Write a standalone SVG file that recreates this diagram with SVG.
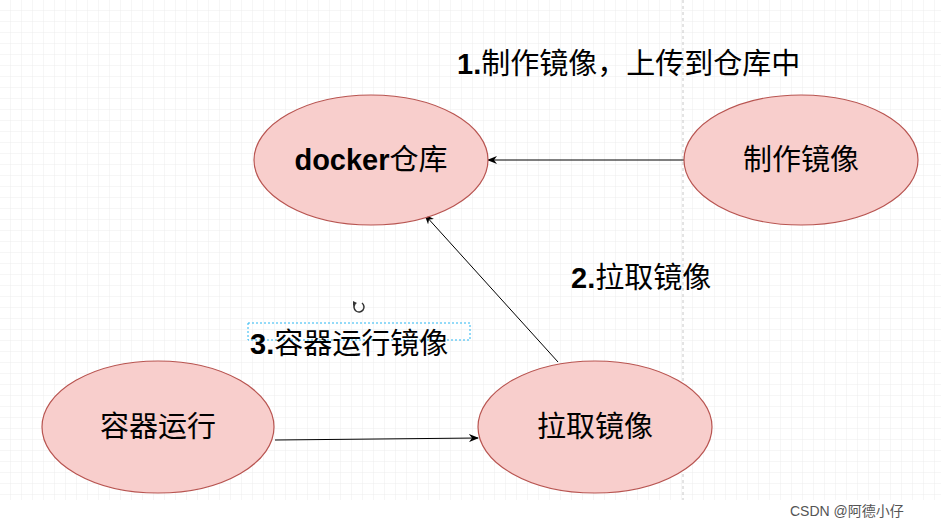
<svg xmlns="http://www.w3.org/2000/svg" width="941" height="528" viewBox="0 0 941 528">
<defs>
<pattern id="g" width="11" height="11" patternUnits="userSpaceOnUse"><path d="M11 0V11H0" fill="none" stroke="#ececec" stroke-width="1"/></pattern>
<marker id="a" markerWidth="10" markerHeight="8" refX="9" refY="4" orient="auto" markerUnits="userSpaceOnUse"><path d="M0 0L10 4L0 8L3 4Z" fill="#000"/></marker>
<style>
.n{fill:#f8cecc;stroke:#b85450;stroke-width:1.2}
.t{font-family:"Liberation Sans","Noto Sans CJK SC",sans-serif;font-size:29px;fill:#000}
.c{stroke:#000;stroke-width:1;fill:none;marker-end:url(#a)}
</style>
</defs>
<rect width="941" height="528" fill="#fff"/>
<rect width="941" height="500" fill="url(#g)"/>
<line x1="683" y1="0" x2="683" y2="500" stroke="#c8c8c8" stroke-dasharray="3,3"/>
<g id="connectors">
<line class="c" x1="685" y1="160" x2="488" y2="160"/>
<line class="c" x1="558" y1="362" x2="425" y2="215"/>
<line class="c" x1="275" y1="440" x2="478" y2="438"/>
</g>
<g id="docker"><ellipse class="n" cx="371" cy="160" rx="117" ry="65"/><text class="t" x="371" y="170" text-anchor="middle" font-size="27"><tspan font-weight="bold">docker</tspan>仓库</text></g>
<g id="make"><ellipse class="n" cx="801" cy="160" rx="117" ry="65"/><text class="t" x="801" y="170" text-anchor="middle">制作镜像</text></g>
<g id="run"><ellipse class="n" cx="158" cy="427" rx="116" ry="66"/><text class="t" x="158" y="437" text-anchor="middle">容器运行</text></g>
<g id="pull"><ellipse class="n" cx="595" cy="427" rx="117" ry="66"/><text class="t" x="595" y="437" text-anchor="middle">拉取镜像</text></g>
<text class="t" x="457" y="74"><tspan font-weight="bold">1.</tspan>制作镜像，上传到仓库中</text>
<text class="t" x="571" y="288"><tspan font-weight="bold">2.</tspan>拉取镜像</text>
<rect x="248" y="323" width="222" height="17" fill="none" stroke="#29b6f2" stroke-dasharray="2,2"/>
<text class="t" x="250" y="354"><tspan font-weight="bold">3.</tspan>容器运行镜像</text>
<path d="M362 303A5 5 0 1 1 355 304" fill="none" stroke="#333" stroke-width="1.5"/><path d="M353 301L357 303L353 306Z" fill="#333"/>
<text x="790" y="516" font-family="Liberation Sans,'Noto Sans CJK SC',sans-serif" font-size="14" fill="#555">CSDN @阿德小仔</text>
</svg>
